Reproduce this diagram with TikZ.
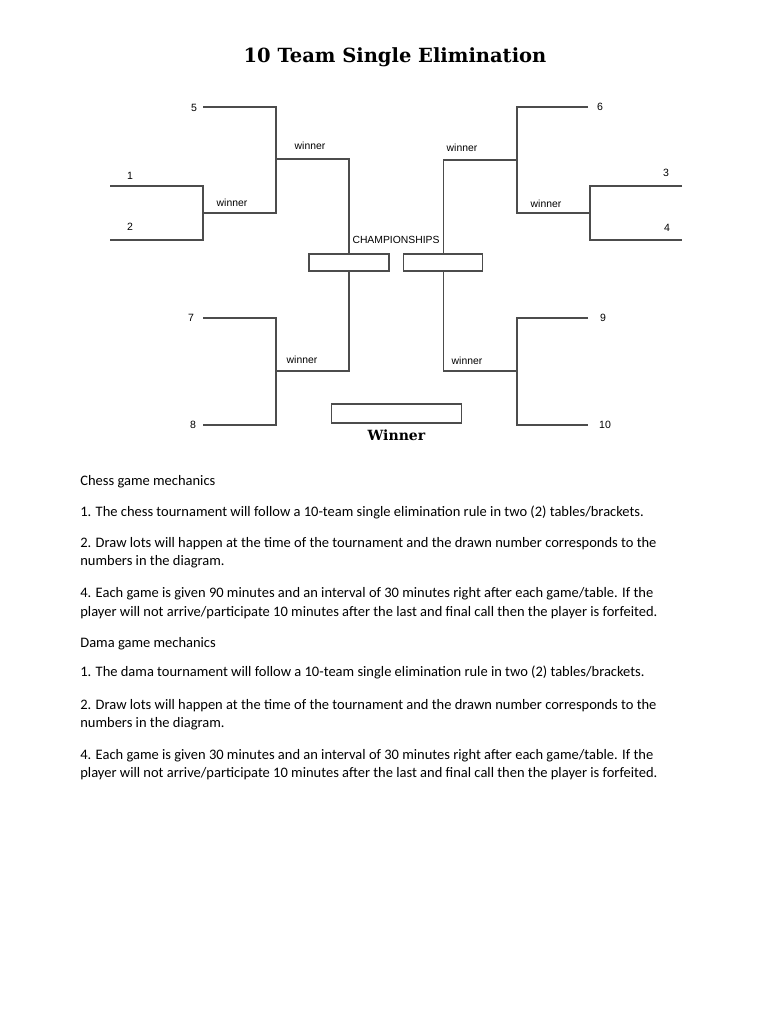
\documentclass[tikz,border=0pt]{standalone}
\usepackage{fontspec}
\setmainfont{Carlito}
\newfontfamily\arialfont{Liberation Sans}
\newfontfamily\slabfont{DejaVu Serif}
\usetikzlibrary{positioning}
\tikzset{edge/.style = {draw = black!70, line width = 0.6pt}}
\tikzset{slot/.style = {shape = rectangle, draw = black!70, line width = 0.6pt, inner sep = 0pt, minimum height = 0.34cm}}
\tikzset{team/.style = {font = \arialfont\fontsize{6}{7}\selectfont, inner sep = 0pt}}
\tikzset{tag/.style = {font = \arialfont\fontsize{5.9}{7}\selectfont, inner sep = 0pt}}
\tikzset{para/.style = {anchor = base west, inner sep = 0pt, font = \fontsize{8.25}{10}\selectfont}}
\tikzset{heading/.style = {font = \slabfont\bfseries\fontsize{11.1}{13}\selectfont, inner sep = 0pt}}

\begin{document}
\begin{tikzpicture}[x = 0.02cm, y = -0.02cm]
			\useasboundingbox (0, 0) rectangle (768, 1024);

			\node[heading] (head) at (395, 57) {10 Team Single Elimination};

			\coordinate (s1) at (110, 186);
			\coordinate (s2) at (110, 240);
			\coordinate (s5) at (203, 107);
			\coordinate (s7) at (203, 318);
			\coordinate (s8) at (203, 425);
			\coordinate (j12) at (203, 213);
			\coordinate (j5) at (276, 159);
			\coordinate (j78) at (276, 371);

			\coordinate (s3) at (682, 186);
			\coordinate (s4) at (682, 240);
			\coordinate (s6) at (588, 107);
			\coordinate (s9) at (588, 318);
			\coordinate (s10) at (588, 425);
			\coordinate (j34) at (590, 213);
			\coordinate (j6) at (517, 160);
			\coordinate (j910) at (517, 371);

			\node[team] (n1) at (130, 176) {1};
			\node[team] (n2) at (130, 227) {2};
			\node[team] (n5) at (194, 108) {5};
			\node[team] (n7) at (191, 318) {7};
			\node[team] (n8) at (193, 425) {8};
			\node[team] (n3) at (666, 173) {3};
			\node[team] (n4) at (667, 228) {4};
			\node[team] (n6) at (600, 107) {6};
			\node[team] (n9) at (603, 318) {9};
			\node[team] (n10) at (605, 425) {10};

			\node[slot, minimum width = 1.6cm] (cl) at (349, 262.5) {};
			\node[slot, minimum width = 1.58cm] (cr) at (443.3, 262.5) {};
			\node[slot, minimum width = 2.6cm, minimum height = 0.38cm] (final) at (396.5, 413.5) {};
			\node[tag] (ch) at (396, 240) {CHAMPIONSHIPS};
			\node[heading, font = \slabfont\bfseries\fontsize{8}{9}\selectfont] (wl) [below = 3.5pt of final] {Winner};

			\node[tag] (w1) at (232, 203) {winner};
			\node[tag] (w2) at (310, 146) {winner};
			\node[tag] (w3) at (302, 360) {winner};
			\node[tag] (w4) at (462, 148) {winner};
			\node[tag] (w5) at (546, 204) {winner};
			\node[tag] (w6) at (467, 361) {winner};

			\draw[edge] (s1) -| (j12) |- (s2);
			\draw[edge] (s5) -| (j5) |- (j12);
			\draw[edge] (j5) -| (cl.north);
			\draw[edge] (s7) -| (j78) |- (s8);
			\draw[edge] (j78) -| (cl.south);
			\draw[edge] (s3) -| (j34) |- (s4);
			\draw[edge] (s6) -| (j6) |- (j34);
			\draw[edge] (j6) -| (cr.north);
			\draw[edge] (s9) -| (j910) |- (s10);
			\draw[edge] (j910) -| (cr.south);

			\node[para] (p1) at (80, 485) {Chess game mechanics};
			\node[para] (p2) at (80, 516) {1. The chess tournament will follow a 10-team single elimination rule in two (2) tables/brackets.};
			\node[para] (p3) at (80, 547) {2. Draw lots will happen at the time of the tournament and the drawn number corresponds to the};
			\node[para] (p4) at (80, 565) {numbers in the diagram.};
			\node[para] (p5) at (80, 597) {4. Each game is given 90 minutes and an interval of 30 minutes right after each game/table. If the};
			\node[para] (p6) at (80, 616) {player will not arrive/participate 10 minutes after the last and final call then the player is forfeited.};
			\node[para] (p7) at (80, 647) {Dama game mechanics};
			\node[para] (p8) at (80, 676) {1. The dama tournament will follow a 10-team single elimination rule in two (2) tables/brackets.};
			\node[para] (p9) at (80, 709) {2. Draw lots will happen at the time of the tournament and the drawn number corresponds to the};
			\node[para] (p10) at (80, 727) {numbers in the diagram.};
			\node[para] (p11) at (80, 759) {4. Each game is given 30 minutes and an interval of 30 minutes right after each game/table. If the};
			\node[para] (p12) at (80, 777) {player will not arrive/participate 10 minutes after the last and final call then the player is forfeited.};
		\end{tikzpicture}
\end{document}
